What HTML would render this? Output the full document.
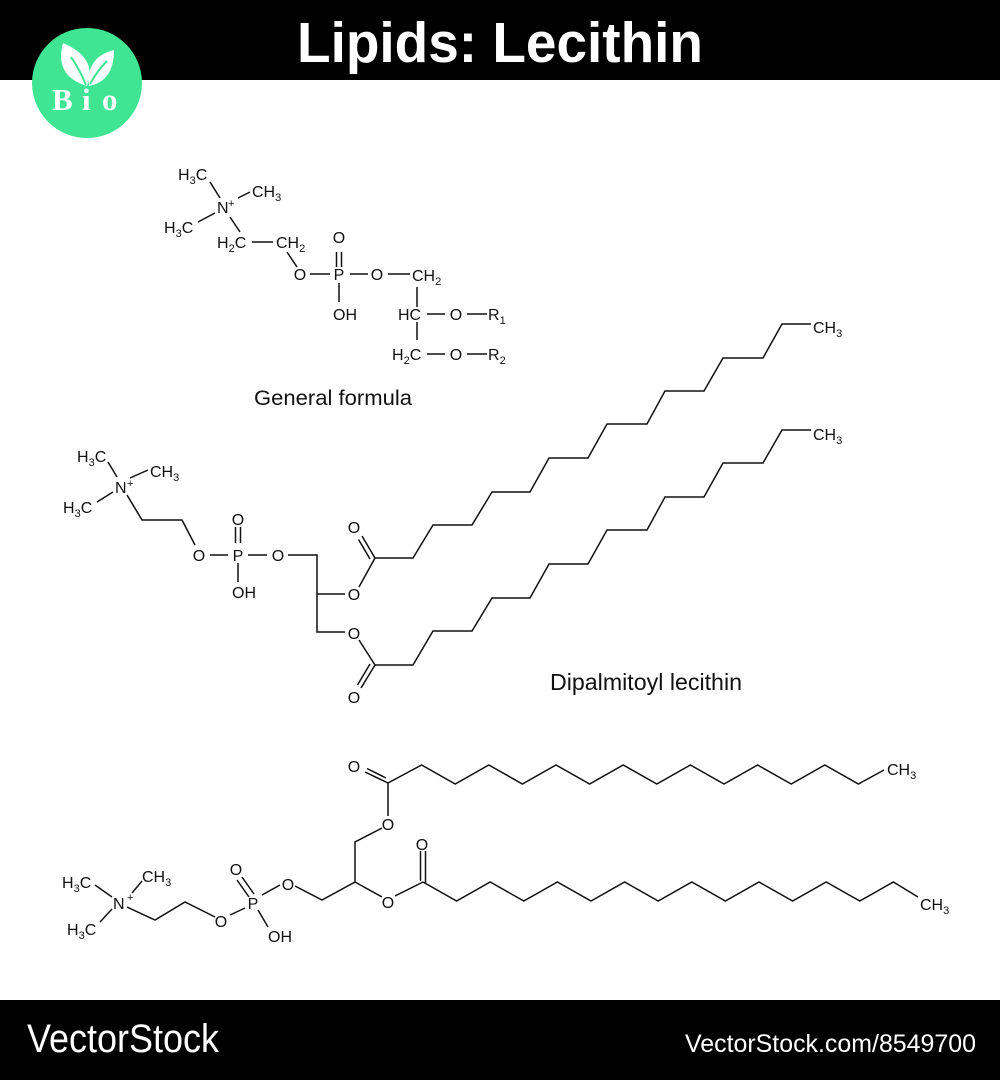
<!DOCTYPE html>
<html>
<head>
<meta charset="utf-8">
<style>
  html,body{margin:0;padding:0;background:#fff;}
  body{width:1000px;height:1080px;overflow:hidden;position:relative;}
  svg{position:absolute;left:0;top:0;}
  .b{stroke:#111;stroke-width:1.5;fill:none;stroke-linecap:butt;stroke-linejoin:miter;}
  .t{font-family:"Liberation Sans",sans-serif;font-size:16px;fill:#111;}
  .s{font-size:11px;}
</style>
</head>
<body>
<svg width="1000" height="1080" viewBox="0 0 1000 1080" xmlns="http://www.w3.org/2000/svg">
  <!-- header -->
  <rect x="0" y="0" width="1000" height="80" fill="#000"/>
  <text x="297" y="62" font-family="Liberation Sans, sans-serif" font-weight="bold" font-size="57" fill="#fff" textLength="406" lengthAdjust="spacingAndGlyphs">Lipids: Lecithin</text>

  <!-- Bio logo -->
  <circle cx="87" cy="83" r="55" fill="#40e594"/>
  <path d="M87,86 Q54,76 63,43 Q98,58 87,86 Z" fill="#fff"/>
  <path d="M89,86 Q86,57 114,50 Q114,81 89,86 Z" fill="#fff"/>
  <path d="M86,85 Q80,70 71,57" stroke="#40e594" stroke-width="2" fill="none"/>
  <path d="M90,84 Q97,71 107,61" stroke="#40e594" stroke-width="2" fill="none"/>
  <g font-family="Liberation Serif, serif" font-weight="bold" font-size="31" fill="#fff">
    <text x="52" y="110">B</text>
    <text x="82" y="110">i</text>
    <text x="102" y="110">o</text>
  </g>

  <!-- ================= General formula ================= -->
  <g class="b">
    <line x1="210" y1="182" x2="220" y2="198"/>
    <line x1="238" y1="198" x2="250" y2="192"/>
    <line x1="198" y1="222" x2="215" y2="213"/>
    <line x1="230" y1="217" x2="240" y2="232"/>
    <line x1="252" y1="242" x2="273" y2="242"/>
    <line x1="287" y1="252" x2="297" y2="267"/>
    <line x1="310" y1="274" x2="330" y2="274"/>
    <line x1="336.5" y1="252" x2="336.5" y2="267"/>
    <line x1="341.5" y1="252" x2="341.5" y2="267"/>
    <line x1="339" y1="283" x2="339" y2="302"/>
    <line x1="350" y1="274" x2="368" y2="274"/>
    <line x1="388" y1="274" x2="410" y2="274"/>
    <line x1="417" y1="287" x2="417" y2="307"/>
    <line x1="427" y1="314" x2="445" y2="314"/>
    <line x1="467" y1="314" x2="487" y2="314"/>
    <line x1="417" y1="322" x2="417" y2="340"/>
    <line x1="427" y1="354" x2="445" y2="354"/>
    <line x1="467" y1="354" x2="487" y2="354"/>
  </g>
  <g class="t">
    <text x="178" y="180">H<tspan class="s" dy="4">3</tspan><tspan dy="-4">C</tspan></text>
    <text x="217" y="213">N</text>
    <text x="228" y="207" class="s">+</text>
    <text x="252" y="197">CH<tspan class="s" dy="4">3</tspan></text>
    <text x="164" y="233">H<tspan class="s" dy="4">3</tspan><tspan dy="-4">C</tspan></text>
    <text x="217" y="248">H<tspan class="s" dy="4">2</tspan><tspan dy="-4">C</tspan></text>
    <text x="276" y="248">CH<tspan class="s" dy="4">2</tspan></text>
    <text x="300" y="280" text-anchor="middle">O</text>
    <text x="339" y="280" text-anchor="middle">P</text>
    <text x="339" y="243" text-anchor="middle">O</text>
    <text x="333" y="320">OH</text>
    <text x="377" y="280" text-anchor="middle">O</text>
    <text x="412" y="281">CH<tspan class="s" dy="4">2</tspan></text>
    <text x="398" y="320">HC</text>
    <text x="456" y="320" text-anchor="middle">O</text>
    <text x="488" y="320">R<tspan class="s" dy="4">1</tspan></text>
    <text x="392" y="360">H<tspan class="s" dy="4">2</tspan><tspan dy="-4">C</tspan></text>
    <text x="456" y="360" text-anchor="middle">O</text>
    <text x="488" y="360">R<tspan class="s" dy="4">2</tspan></text>
  </g>
  <text x="254" y="405" font-family="Liberation Sans, sans-serif" font-size="21" fill="#111" textLength="158" lengthAdjust="spacingAndGlyphs">General formula</text>

  <!-- ================= Dipalmitoyl lecithin ================= -->
  <g class="b">
    <line x1="108" y1="462" x2="117" y2="477"/>
    <line x1="130" y1="478" x2="148" y2="470"/>
    <line x1="97" y1="502" x2="113" y2="492"/>
    <polyline points="127,495 142,520 182,520 195,545"/>
    <line x1="210" y1="555" x2="228" y2="555"/>
    <line x1="235.5" y1="527" x2="235.5" y2="543"/>
    <line x1="240.5" y1="527" x2="240.5" y2="543"/>
    <line x1="238" y1="563" x2="238" y2="582"/>
    <line x1="248" y1="555" x2="267" y2="555"/>
    <polyline points="288,555 317,555 317,632 345,632"/>
    <line x1="317" y1="594" x2="345" y2="594"/>
    <!-- upper ester -->
    <line x1="359" y1="587" x2="375" y2="558"/>
    <line x1="362" y1="536" x2="375" y2="558"/>
    <line x1="358.5" y1="539.5" x2="370" y2="559"/>
    <polyline points="375,558 413,558 433,525 472,525 492,492 530,492 549,458 588,458 607,424 647,424 665,391 704,391 723,358 763,358 782,324 811,324"/>
    <!-- lower ester -->
    <line x1="359" y1="640" x2="375" y2="665"/>
    <line x1="375" y1="665" x2="361" y2="688"/>
    <line x1="370" y1="664" x2="357.5" y2="685"/>
    <polyline points="375,665 413,665 433,631 472,631 492,598 530,598 549,564 588,564 607,530 647,530 665,497 704,497 723,463 763,463 782,430 811,430"/>
  </g>
  <g class="t">
    <text x="77" y="462">H<tspan class="s" dy="4">3</tspan><tspan dy="-4">C</tspan></text>
    <text x="115" y="493">N</text>
    <text x="127" y="487" class="s">+</text>
    <text x="150" y="477">CH<tspan class="s" dy="4">3</tspan></text>
    <text x="63" y="513">H<tspan class="s" dy="4">3</tspan><tspan dy="-4">C</tspan></text>
    <text x="199" y="561" text-anchor="middle">O</text>
    <text x="238" y="561" text-anchor="middle">P</text>
    <text x="238" y="525" text-anchor="middle">O</text>
    <text x="232" y="598">OH</text>
    <text x="278" y="561" text-anchor="middle">O</text>
    <text x="354" y="600" text-anchor="middle">O</text>
    <text x="354" y="639" text-anchor="middle">O</text>
    <text x="354" y="533" text-anchor="middle">O</text>
    <text x="354" y="703" text-anchor="middle">O</text>
    <text x="813" y="333">CH<tspan class="s" dy="4">3</tspan></text>
    <text x="813" y="440">CH<tspan class="s" dy="4">3</tspan></text>
  </g>
  <text x="550" y="690" font-family="Liberation Sans, sans-serif" font-size="23" fill="#111" textLength="192" lengthAdjust="spacingAndGlyphs">Dipalmitoyl lecithin</text>

  <!-- ================= Bottom structure ================= -->
  <g class="b">
    <line x1="95" y1="885" x2="112" y2="897"/>
    <line x1="132" y1="893" x2="142" y2="881"/>
    <line x1="100" y1="922" x2="112" y2="909"/>
    <polyline points="127,907 155,920 185,902 215,917"/>
    <line x1="230" y1="915" x2="245" y2="908"/>
    <line x1="237" y1="880" x2="249" y2="897"/>
    <line x1="242" y1="877" x2="254" y2="894"/>
    <line x1="258" y1="910" x2="268" y2="927"/>
    <line x1="262" y1="895" x2="280" y2="885"/>
    <polyline points="295,886 322,900 355,882 355,842 382,828"/>
    <line x1="355" y1="882" x2="382" y2="897"/>
    <!-- upper ester -->
    <line x1="388" y1="816" x2="388" y2="783"/>
    <line x1="388" y1="783" x2="365" y2="772"/>
    <line x1="386" y1="778" x2="367" y2="768.5"/>
    <polyline points="388,783 421.6,765 455.2,784 488.8,765 522.4,784 556,765 589.6,784 623.2,765 656.8,784 690.4,765 724,784 757.6,765 791.2,784 824.8,765 858.4,784 884,770"/>
    <!-- lower ester -->
    <line x1="395" y1="896" x2="423" y2="882"/>
    <line x1="420.5" y1="851" x2="420.5" y2="881"/>
    <line x1="425.5" y1="851" x2="425.5" y2="883"/>
    <polyline points="423,882 456.6,901 490.2,882 523.8,901 557.4,882 591,901 624.6,882 658.2,901 691.8,882 725.4,901 759,882 792.6,901 826.2,882 859.8,901 893.4,882 918,897"/>
  </g>
  <g class="t">
    <text x="62" y="888">H<tspan class="s" dy="4">3</tspan><tspan dy="-4">C</tspan></text>
    <text x="113" y="909">N</text>
    <text x="127" y="901" class="s">+</text>
    <text x="142" y="882">CH<tspan class="s" dy="4">3</tspan></text>
    <text x="67" y="935">H<tspan class="s" dy="4">3</tspan><tspan dy="-4">C</tspan></text>
    <text x="221" y="927" text-anchor="middle">O</text>
    <text x="253" y="909" text-anchor="middle">P</text>
    <text x="236" y="875" text-anchor="middle">O</text>
    <text x="268" y="942">OH</text>
    <text x="288" y="890" text-anchor="middle">O</text>
    <text x="388" y="830" text-anchor="middle">O</text>
    <text x="354" y="772" text-anchor="middle">O</text>
    <text x="388" y="908" text-anchor="middle">O</text>
    <text x="422" y="850" text-anchor="middle">O</text>
    <text x="887" y="775">CH<tspan class="s" dy="4">3</tspan></text>
    <text x="920" y="910">CH<tspan class="s" dy="4">3</tspan></text>
  </g>

  <!-- footer -->
  <rect x="0" y="1000" width="1000" height="80" fill="#000"/>
  <text x="27" y="1052" font-family="Liberation Sans, sans-serif" font-size="40" fill="#fff" textLength="192" lengthAdjust="spacingAndGlyphs">VectorStock</text>
  <text x="685" y="1052" font-family="Liberation Sans, sans-serif" font-size="25" fill="#fff" textLength="291" lengthAdjust="spacingAndGlyphs">VectorStock.com/8549700</text>
</svg>
</body>
</html>
